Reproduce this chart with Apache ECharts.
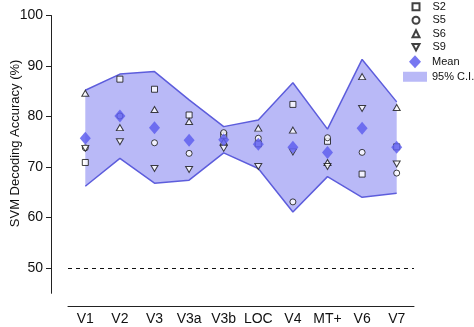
<!DOCTYPE html>
<html><head><meta charset="utf-8">
<script src="https://cdn.jsdelivr.net/npm/echarts@6/dist/echarts.min.js"></script>
<style>html,body{margin:0;padding:0;background:#fff}#c{width:474px;height:327px}</style>
</head><body><div id="c"></div>
<script>
var categories = ['V1','V2','V3','V3a','V3b','LOC','V4','MT+','V6','V7'];
var s2 = [70.9, 87.4, 85.4, 80.3, 76.3, 74.6, 82.4, 75.1, 68.6, 74.0];
var s5 = [73.8, 80.1, 74.8, 72.7, 76.8, 75.7, 63.1, 75.8, 72.9, 68.8];
var s6 = [84.6, 77.8, 81.4, 79.0, 75.0, 77.7, 77.3, 70.9, 87.9, 81.8];
var s9 = [73.7, 75.0, 69.7, 69.5, 73.7, 70.1, 73.0, 70.1, 81.6, 70.6];
var meanVals = [75.7, 80.1, 77.8, 75.3, 75.4, 74.5, 73.9, 72.9, 77.7, 73.9];
var ciUpper = [85.2, 88.4, 88.9, 83.3, 78.0, 79.3, 86.7, 77.5, 91.3, 82.9];
var ciLower = [66.2, 71.7, 66.8, 67.4, 72.8, 69.7, 61.1, 68.1, 64.0, 64.8];
var yTicks = [50, 60, 70, 80, 90, 100];
var chanceLevel = 50;

var FONT = 'Liberation Sans, Arial, sans-serif';
var ciFill = '#b9b9f7';
var ciLine = '#5d5ddc';
var meanColor = '#5f5fee';
var downTri = 'path://M0,0 L10,0 L5,9 Z';
var hollow = {color: '#fff', borderColor: '#111', borderWidth: 1};

var chart = echarts.init(document.getElementById('c'), null, {renderer: 'canvas'});

function scat(name, data, symbol, size) {
  return {
    name: name, type: 'scatter', data: data, symbol: symbol, symbolSize: size,
    itemStyle: hollow, z: 5, silent: true
  };
}

var legendText = {fontSize: 11, color: '#111', lineHeight: 13.5, fontFamily: FONT};

var option = {
  animation: false,
  backgroundColor: '#fff',
  textStyle: {fontFamily: FONT},
  grid: {left: 68, right: 60, top: 15.5, bottom: 33.7, outerBoundsMode: 'none', containLabel: false},
  xAxis: {
    type: 'category', data: categories, boundaryGap: true, offset: 13,
    axisLine: {lineStyle: {color: '#222', width: 1}},
    axisTick: {alignWithLabel: true, length: 4, lineStyle: {color: '#222'}},
    axisLabel: {color: '#111', fontSize: 14, margin: 6, interval: 0, fontFamily: FONT},
    splitLine: {show: false}
  },
  yAxis: {
    type: 'value', min: 45, max: 100, offset: 17,
    name: 'SVM Decoding Accuracy (%)', nameLocation: 'middle', nameGap: 29, nameMoveOverlap: false,
    nameTextStyle: {color: '#111', fontSize: 13, fontFamily: FONT, padding: [0, 0, 0, 22]},
    axisLine: {show: true, lineStyle: {color: '#222', width: 1}},
    axisTick: {show: true, length: 5, customValues: yTicks, lineStyle: {color: '#222'}},
    axisLabel: {color: '#111', fontSize: 14, margin: 8, customValues: yTicks, fontFamily: FONT},
    splitLine: {show: false}
  },
  legend: [
    {
      orient: 'vertical', left: 411.5, top: 0, padding: 0, itemWidth: 7, itemHeight: 7, itemGap: 0,
      textStyle: Object.assign({padding: [0, 0, 0, 8]}, legendText),
      selectedMode: false,
      data: [
        {name: 'S2', icon: 'rect'},
        {name: 'S5', icon: 'circle'},
        {name: 'S6', icon: 'triangle'},
        {name: 'S9', icon: downTri}
      ]
    },
    {
      orient: 'vertical', left: 409, top: 55, padding: 0, itemWidth: 12, itemHeight: 13,
      textStyle: Object.assign({padding: [0, 0, 0, 6]}, legendText),
      selectedMode: false,
      data: [{name: 'Mean', icon: 'diamond', itemStyle: {color: meanColor, opacity: 0.85}}]
    },
    {
      orient: 'vertical', left: 403, top: 70, padding: 0, itemWidth: 24, itemHeight: 10,
      textStyle: Object.assign({padding: [0, 0, 0, 0]}, legendText),
      selectedMode: false,
      data: [{name: '95% C.I.', icon: 'rect', itemStyle: {color: ciFill, borderWidth: 0}}]
    }
  ],
  series: [
    {
      name: '95% C.I.', type: 'custom', data: [[0]], z: 1, silent: true,
      itemStyle: {color: ciFill},
      renderItem: function (params, api) {
        var pts = [];
        for (var i = 0; i < categories.length; i++) pts.push(api.coord([i, ciUpper[i]]));
        for (var j = categories.length - 1; j >= 0; j--) pts.push(api.coord([j, ciLower[j]]));
        return {type: 'polygon', shape: {points: pts}, style: {fill: ciFill, stroke: null}};
      }
    },
    {
      name: 'ciUpperLine', type: 'line', data: ciUpper, symbol: 'none', z: 2, silent: true,
      lineStyle: {color: ciLine, width: 1.5}
    },
    {
      name: 'ciLowerLine', type: 'line', data: ciLower, symbol: 'none', z: 2, silent: true,
      lineStyle: {color: ciLine, width: 1.5},
      markLine: {
        silent: true, symbol: 'none', label: {show: false},
        lineStyle: {color: '#111', type: [4, 4], width: 1},
        data: [{yAxis: chanceLevel}]
      }
    },
    scat('S2', s2, 'rect', 6),
    scat('S5', s5, 'circle', 6),
    scat('S6', s6, 'triangle', [7, 6]),
    scat('S9', s9, downTri, [7, 6]),
    {
      name: 'Mean', type: 'scatter', data: meanVals, symbol: 'diamond', symbolSize: [11, 13],
      itemStyle: {color: meanColor, opacity: 0.85}, z: 6, silent: true
    }
  ]
};
chart.setOption(option);
</script>
</body></html>
